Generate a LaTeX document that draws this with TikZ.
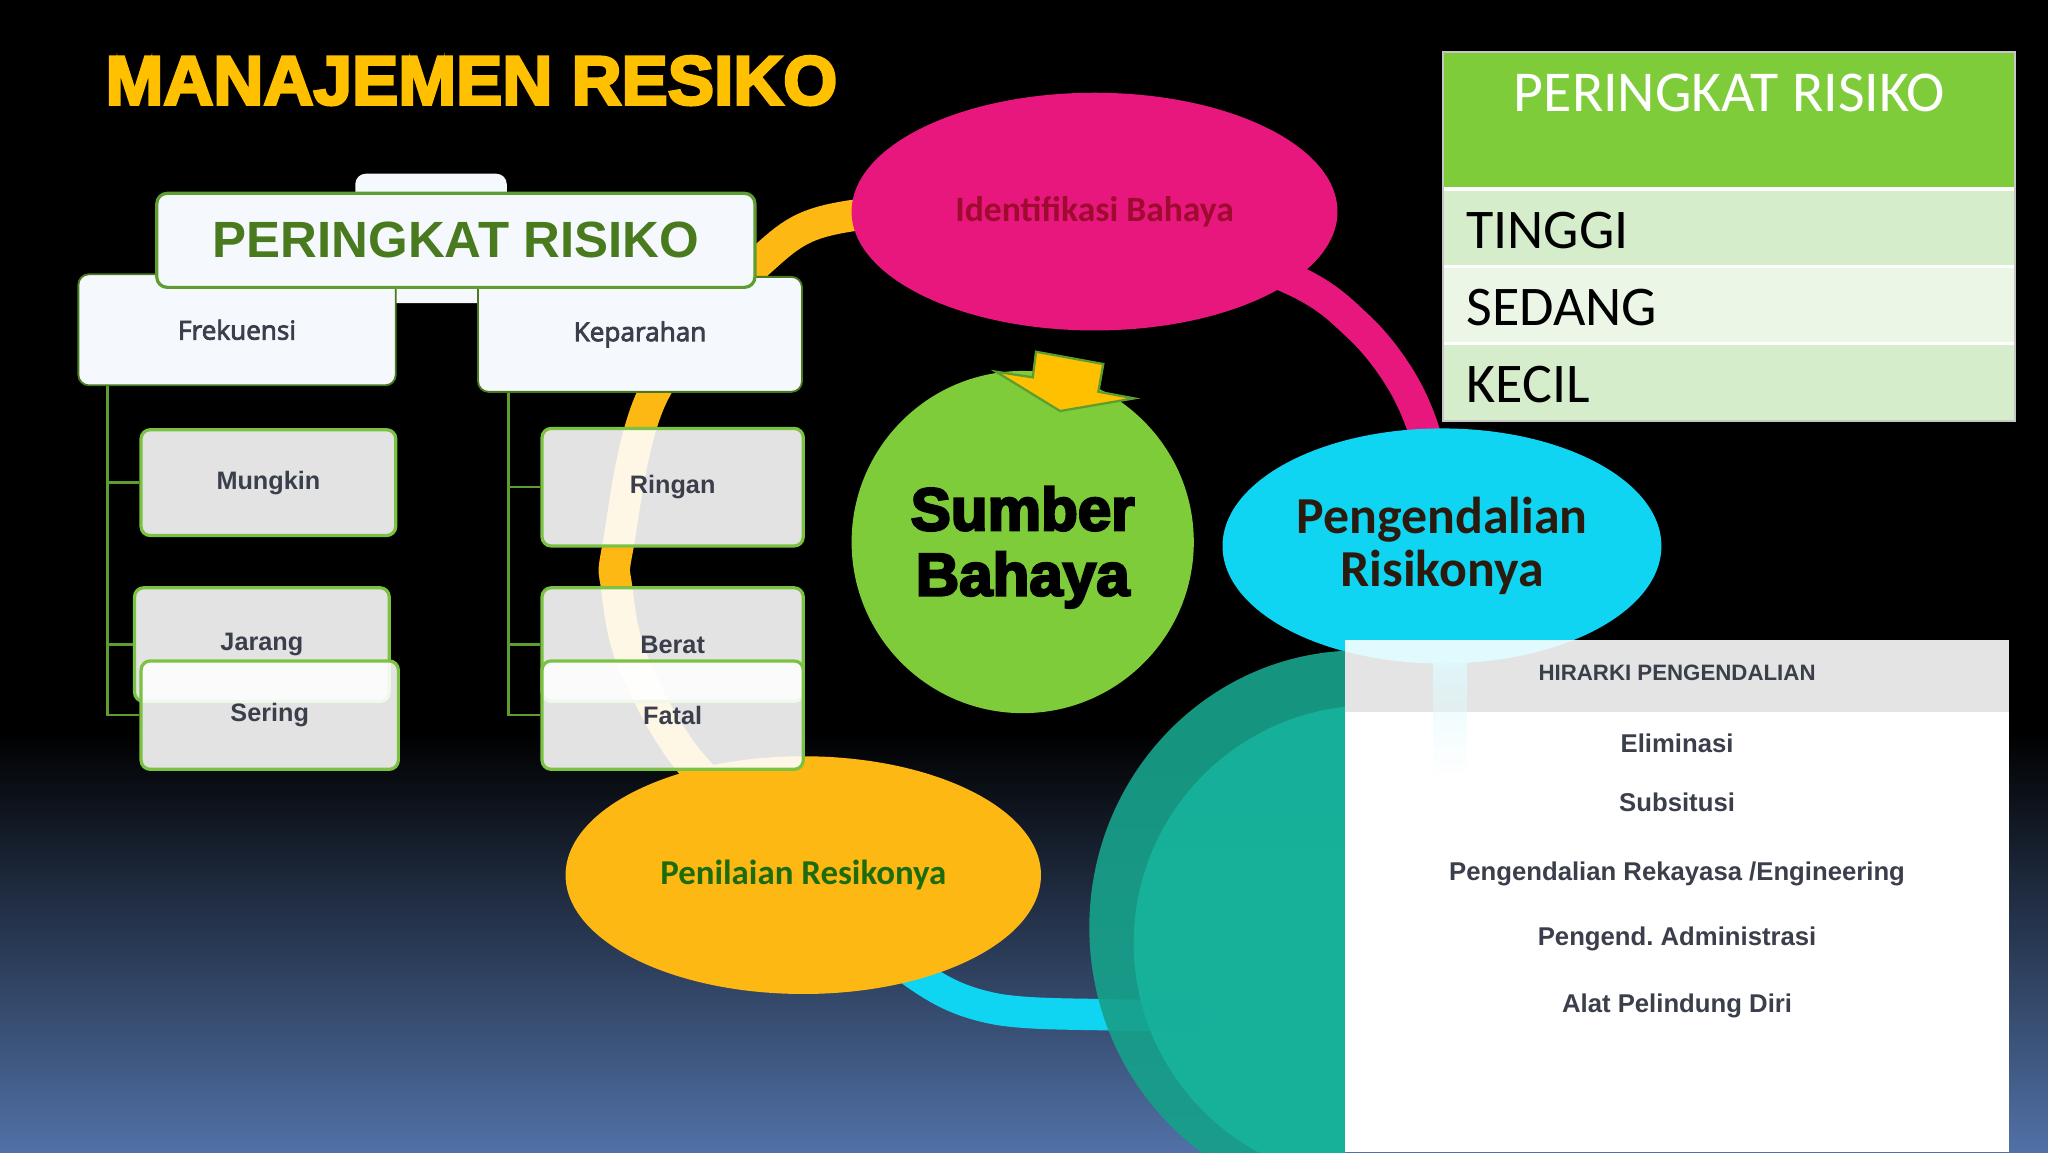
\documentclass[tikz,border=0pt]{standalone}
\usepackage{fontspec}
\setmainfont{Liberation Sans}
\newfontfamily\heavyfont{Liberation Sans Bold}[FakeBold=4]
\newfontfamily\calfont{Carlito}
\newfontfamily\opfont{Open Sans}[FakeBold=3]
\usetikzlibrary{positioning}
\usetikzlibrary{shapes.geometric, fadings}

\definecolor{titleyellow}{HTML}{FFC000}
\definecolor{ringyellow}{HTML}{FDB813}
\definecolor{identpink}{HTML}{E8177D}
\definecolor{pengcyan}{HTML}{10D5F2}
\definecolor{leafgreen}{HTML}{7FCC3B}
\definecolor{tealout}{HTML}{17A08A}
\definecolor{tealin}{HTML}{17B29B}
\definecolor{bgblue}{HTML}{5171A6}
\definecolor{boxwhite}{HTML}{F5F8FC}
\definecolor{darkleaf}{HTML}{4A7A1E}
\definecolor{edgegreen}{HTML}{7CC242}
\definecolor{linegreen}{HTML}{5E9E30}
\definecolor{labelgray}{HTML}{3A3F4B}
\definecolor{identred}{HTML}{9E0B2E}
\definecolor{pengbrown}{HTML}{2B1B0F}
\definecolor{penilgreen}{HTML}{1C6B0C}
\definecolor{rowdark}{HTML}{D6EDCC}
\definecolor{rowlight}{HTML}{EBF6E7}
\definecolor{hdrgray}{HTML}{E4E4E4}

\pgfdeclarelayer{bglayer}
\pgfdeclarelayer{arclayer}
\pgfsetlayers{bglayer,arclayer,main}

\tikzfading[name=stripefade, top color=transparent!0, bottom color=transparent!100]

\tikzset{
  topbox/.style={rectangle, rounded corners=0.08cm, fill=boxwhite, draw=darkleaf, line width=0.4pt, inner sep=0pt, text=labelgray, font=\opfont\fontsize{5.7}{6}\selectfont},
  leafbox/.style={rectangle, rounded corners=0.07cm, fill=white, fill opacity=0.89, text opacity=1, draw=edgegreen, line width=0.7pt, inner sep=0pt, text=labelgray, font=\bfseries\fontsize{5.5}{6}\selectfont},
  branch/.style={linegreen, line width=0.5pt},
  ringline/.style={line width=0.24cm},
  blob/.style={ellipse, inner sep=0pt, align=center},
  hirarki/.style={font=\bfseries\fontsize{5.6}{6}\selectfont, text=labelgray, anchor=base},
  rankrow/.style={font=\calfont\fontsize{12.2}{13}\selectfont, text=black, anchor=base west, inner sep=0pt}
}

\begin{document}
\begin{tikzpicture}
\useasboundingbox (0,0) rectangle (15.68,8.82);
\begin{pgfonlayer}{bglayer}
\fill[black] (0,0) rectangle (15.68,8.82);
\shade[top color=black, bottom color=bgblue] (0,0) rectangle (15.68,3.22);
\end{pgfonlayer}

\node[font=\heavyfont\fontsize{15.1}{16}\selectfont, text=titleyellow, anchor=base] (title) at (3.61,8.02) {MANAJEMEN RESIKO};

\node[blob, fill=identpink, minimum width=3.72cm, minimum height=1.82cm, text=identred, font=\calfont\bfseries\fontsize{7.75}{9}\selectfont] (ident) at (8.38,7.20) {Identifikasi Bahaya};
\node[blob, fill=pengcyan, minimum width=3.36cm, minimum height=1.80cm, text=pengbrown, font=\calfont\bfseries\fontsize{11.3}{11.7}\selectfont] (peng) at (11.04,4.64) {Pengendalian\\Risikonya};
\node[blob, fill=ringyellow, minimum width=3.64cm, minimum height=1.82cm, text=penilgreen, font=\calfont\bfseries\fontsize{7.6}{9}\selectfont] (penil) at (6.15,2.12) {Penilaian Resikonya};
\node[circle, fill=leafgreen, minimum size=2.62cm, inner sep=0pt] (source) at (7.83,4.67) {};
\node[align=center, inner sep=0pt, font=\heavyfont\fontsize{13.1}{14.2}\selectfont] (sourcetxt) at ([yshift=-0.04cm]source.center) {Sumber\\Bahaya};
\draw[fill=titleyellow, draw=linegreen, line width=0.5pt] (7.932,6.127) -- (8.447,6.033) -- (8.409,5.821) -- (8.682,5.77) -- (8.116,5.673) -- (7.626,5.974) -- (7.907,5.931) -- cycle;

\begin{pgfonlayer}{arclayer}
\draw[ringline, ringyellow] plot[smooth, tension=0.55] coordinates {(ident.center) (6.53,7.17) (5.82,6.82) (5.00,5.80) (4.73,4.63) (4.72,4.33) (4.84,3.77) (5.27,3.00) (penil.center)};
\draw[ringline, identpink] plot[smooth, tension=0.55] coordinates {(ident.center) (9.85,6.70) (10.40,6.32) (10.75,5.87) (10.95,5.35) (peng.center)};
\coordinate (cyanend) at (9.20,1.05);
\draw[ringline, pengcyan] plot[smooth, tension=0.55] coordinates {(penil.center) (7.00,1.37) (7.60,1.10) (8.50,1.05) (cyanend)};
\end{pgfonlayer}

\node[topbox, draw=none, minimum width=1.16cm, minimum height=0.99cm] (tab) at (3.30,6.995) {};
\node[topbox, minimum width=2.43cm, minimum height=0.85cm] (frek) at (1.815,6.295) {Frekuensi};
\node[topbox, minimum width=2.48cm, minimum height=0.88cm] (kep) at (4.90,6.26) {Keparahan};
\node[topbox, draw=linegreen, line width=0.7pt, minimum width=4.58cm, minimum height=0.72cm, text=darkleaf, font=\bfseries\fontsize{11.1}{12}\selectfont] (hdr) at (3.49,6.98) {PERINGKAT RISIKO};

\node[leafbox, minimum width=1.95cm, minimum height=0.81cm] (mungkin) at (2.055,5.125) {Mungkin};
\node[leafbox, minimum width=1.95cm, minimum height=0.87cm] (jarang) at (2.005,3.885) {Jarang};
\node[leafbox, minimum width=1.97cm, minimum height=0.83cm] (sering) at (2.065,3.345) {Sering};
\node[leafbox, minimum width=2.00cm, minimum height=0.90cm] (ringan) at (5.15,5.09) {Ringan};
\node[leafbox, minimum width=2.00cm, minimum height=0.87cm] (berat) at (5.15,3.885) {Berat};
\node[leafbox, minimum width=2.00cm, minimum height=0.83cm] (fatal) at (5.15,3.345) {Fatal};

\draw[branch] ([xshift=0.23cm]frek.south west) |- (mungkin.west);
\draw[branch] ([xshift=0.23cm]frek.south west) |- (jarang.west);
\draw[branch] ([xshift=0.23cm]frek.south west) |- (sering.west);
\draw[branch] ([xshift=0.24cm]kep.south west) |- (ringan.west);
\draw[branch] ([xshift=0.24cm]kep.south west) |- (berat.west);
\draw[branch] ([xshift=0.24cm]kep.south west) |- (fatal.west);

\begin{scope}
\clip (8.0,0) rectangle (10.30,4.3);
\fill[tealout, fill opacity=0.93] (10.40,1.72) ellipse [x radius=2.06, y radius=2.12];
\fill[tealin, fill opacity=0.93] (10.50,1.60) ellipse [x radius=1.82, y radius=1.82];
\end{scope}

\fill[white] (11.05,5.60) rectangle (15.43,8.42);
\fill[leafgreen] (11.05,7.39) rectangle (15.43,8.42);
\fill[rowdark] (11.05,6.79) rectangle (15.43,7.36);
\fill[rowlight] (11.05,6.20) rectangle (15.43,6.77);
\fill[rowdark] (11.05,5.60) rectangle (15.43,6.18);
\draw[gray!45, line width=0.4pt] (11.05,5.60) rectangle (15.43,8.42);
\node[font=\calfont\fontsize{12.6}{13}\selectfont, text=white, anchor=base] (rankttl) at (13.24,7.97) {PERINGKAT RISIKO};
\node[rankrow] (tinggi) at (11.22,6.92) {TINGGI};
\node[rankrow] (sedang) at (11.22,6.33) {SEDANG};
\node[rankrow] (kecil) at (11.22,5.74) {KECIL};

\fill[hdrgray] (10.30,3.37) rectangle (15.38,3.92);
\fill[white] (10.30,0) rectangle (15.38,3.37);
\begin{scope}
\clip (10.30,0) rectangle (15.38,3.92);
\fill[pengcyan!13] (peng.center) ellipse [x radius=1.68, y radius=0.90];
\fill[pengcyan!13, path fading=stripefade] (10.97,3.92) rectangle (11.23,2.90);
\end{scope}
\node[hirarki, font=\bfseries\fontsize{4.85}{5}\selectfont] (hirttl) at (12.84,3.61) {HIRARKI PENGENDALIAN};
\node[hirarki] (elim) at (12.84,3.06) {Eliminasi};
\node[hirarki] (subs) at (12.84,2.61) {Subsitusi};
\node[hirarki] (rekay) at (12.84,2.08) {Pengendalian Rekayasa /Engineering};
\node[hirarki] (admin) at (12.84,1.58) {Pengend.\ Administrasi};
\node[hirarki] (apd) at (12.84,1.07) {Alat Pelindung Diri};

\end{tikzpicture}
\end{document}
